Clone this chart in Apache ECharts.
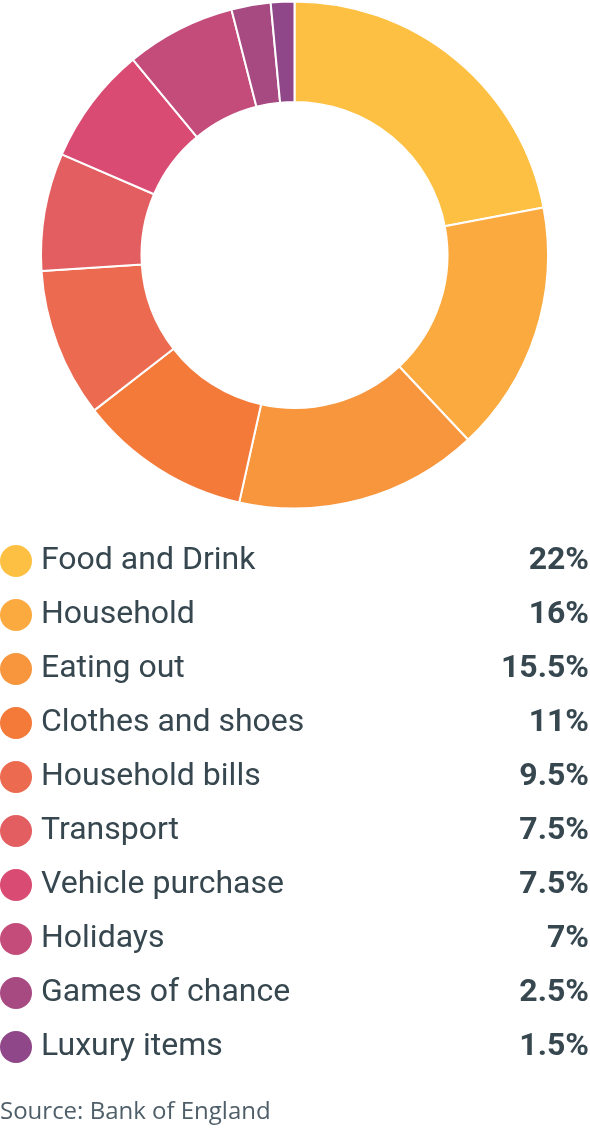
<!DOCTYPE html>
<html>
<head>
<meta charset="utf-8">
<script src="https://cdn.jsdelivr.net/npm/echarts@6/dist/echarts.min.js"></script>
<style>
html,body{margin:0;padding:0;background:#fff;}
#c{width:590px;height:1129px;}
</style>
</head>
<body>
<div id="c"></div>
<script>
const categories = ["Food and Drink","Household","Eating out","Clothes and shoes","Household bills","Transport","Vehicle purchase","Holidays","Games of chance","Luxury items"];
const values = [22,16,15.5,11,9.5,7.5,7.5,7,2.5,1.5];
const colors = ["#FEC043","#FBAA3F","#F7963D","#F47A3A","#EC6A50","#E35E60","#DA4B73","#C44C7B","#A84A82","#8F478A"];
const sourceText = "Source: Bank of England";

const chart = echarts.init(document.getElementById('c'), null, {renderer:'canvas'});
const valueOf = {};
categories.forEach((c,i)=>valueOf[c]=values[i]);

chart.setOption({
  animation:false,
  color: colors,
  legend:{
    orient:'vertical',
    left:0, top:545, padding:0,
    itemWidth:32, itemHeight:32, itemGap:22,
    icon:'circle',
    itemStyle:{borderWidth:0},
    selectedMode:false,
    data: categories,
    formatter: n => '{n|' + n + '}{v|' + valueOf[n] + '%}',
    textStyle:{
      rich:{
        n:{fontFamily:'Roboto',fontSize:32,color:'#37474F',width:443,padding:[0,0,0,4],lineHeight:32},
        v:{fontFamily:'Roboto',fontSize:32,fontWeight:'bold',color:'#37474F',width:105,align:'right',lineHeight:32}
      }
    }
  },
  graphic:[{
    type:'text', left:0, top:1100,
    style:{text:sourceText, fontFamily:'Open Sans', fontSize:24, fill:'#4F5F69'}
  }],
  series:[{
    type:'pie',
    center:[294.5,255],
    radius:[153,253.5],
    startAngle:90,
    clockwise:true,
    silent:true,
    label:{show:false},
    labelLine:{show:false},
    itemStyle:{borderColor:'#fff',borderWidth:2},
    data: categories.map((c,i)=>({name:c,value:values[i]}))
  }]
});
</script>
</body>
</html>
